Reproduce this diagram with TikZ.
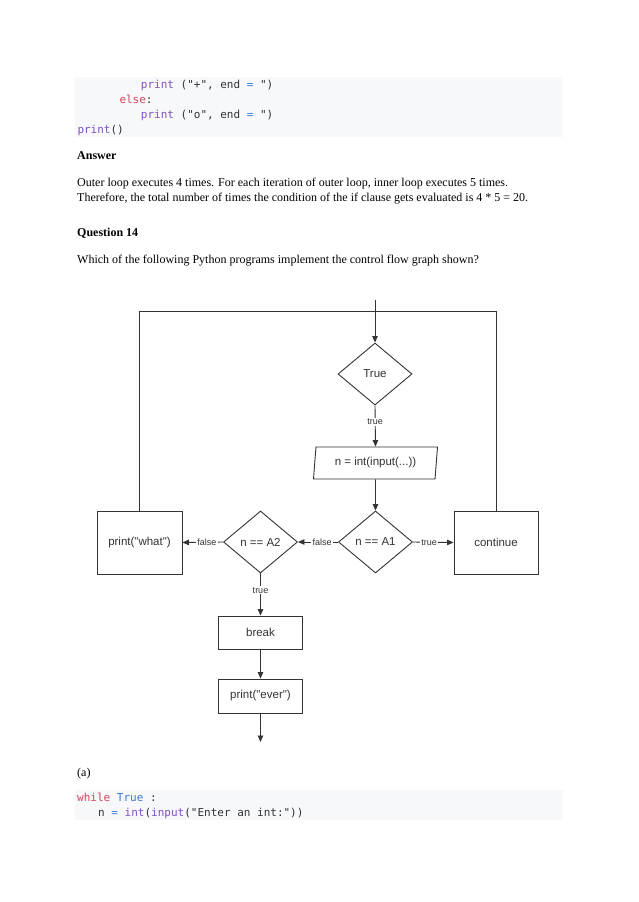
\documentclass[tikz,border=0pt]{standalone}
\usepackage{fontspec}
\setmainfont{Liberation Serif}
\newfontfamily\flow{Liberation Sans}
\newfontfamily\code[Ligatures=TeXOff]{DejaVu Sans Mono}
\usetikzlibrary{shapes.geometric,arrows.meta}
\definecolor{codebg}{HTML}{F6F8FA}
\definecolor{kwpurple}{HTML}{8250C4}
\definecolor{kwred}{HTML}{D6455D}
\definecolor{kwblue}{HTML}{3A7BD5}
\definecolor{ln}{HTML}{333333}
\begin{document}
\begin{tikzpicture}[x=1pt,y=-1pt,
  txt/.style={anchor=base west, inner sep=0, font=\fontsize{12}{14}\selectfont},
  btxt/.style={anchor=base west, inner sep=0, font=\fontsize{12}{14}\selectfont\bfseries},
  codeln/.style={anchor=base west, inner sep=0, font=\code\fontsize{11}{13}\selectfont, text=ln},
  fbox/.style={draw=ln, line width=0.9pt, rectangle, inner sep=0, font=\flow\fontsize{11.5}{13}\selectfont, text=ln},
  dia/.style={fbox, diamond, minimum width=74pt, minimum height=62pt},
  para/.style={fbox, trapezium, trapezium left angle=81, trapezium right angle=99, trapezium stretches=true, minimum width=125pt, minimum height=32pt},
  line/.style={draw=ln, line width=0.9pt},
  conn/.style={line, -{Triangle[length=6.5pt,width=5.5pt]}},
  lab/.style={fill=white, inner sep=1.2pt, font=\flow\fontsize{9}{10}\selectfont, text=ln, pos=0.4}
]
\useasboundingbox (0,0) rectangle (638,902);
\fill[white] (0,0) rectangle (638,902);

% code block 1
\fill[codebg] (75,77) rectangle (563,137);
\node[codeln] (c1) at (140.7,88.3) {\textcolor{kwpurple}{print} ("+", end \textcolor{kwblue}{=} ")};
\node[codeln] (c2) at (119.3,103.3) {\textcolor{kwred}{else}:};
\node[codeln] (c3) at (140.7,118.3) {\textcolor{kwpurple}{print} ("o", end \textcolor{kwblue}{=} ")};
\node[codeln] (c4) at (77.3,133.3) {\textcolor{kwpurple}{print}()};

% text
\node[btxt] (ans) at (77,159.3) {Answer};
\node[txt] (o1) at (77,186.7) {Outer loop executes 4 times. For each iteration of outer loop, inner loop executes 5 times.};
\node[txt] (o2) at (77,201.7) {Therefore, the total number of times the condition of the if clause gets evaluated is 4 * 5 = 20.};
\node[btxt] (q) at (77,236.7) {Question 14};
\node[txt] (w) at (77,263) {Which of the following Python programs implement the control flow graph shown?};

% flowchart
\node[dia] (T) at (375,374) {True};
\node[para] (inp) at (375.5,463) {n = int(input(...))};
\node[dia] (A1) at (375.5,542) {n == A1};
\node[dia] (A2) at (260.5,542) {n == A2};
\node[fbox, minimum width=85pt, minimum height=63pt] (pw) at (139.5,542.5) {print("what")};
\node[fbox, minimum width=84pt, minimum height=63pt] (cont) at (496,542.5) {continue};
\node[fbox, minimum width=84pt, minimum height=33pt] (brk) at (260.5,632.5) {break};
\node[fbox, minimum width=84pt, minimum height=34pt] (pe) at (260.5,696) {print("ever")};
\coordinate (st) at (375,300);
\coordinate (jn) at (375,311);
\coordinate (out) at (260.5,742);

\draw[conn] (st) -- (T.north);
\draw[line] (pw.north) |- (jn);
\draw[line] (cont.north) |- (jn);
\draw[conn] (T.south) -- node[lab]{true} (inp.north);
\draw[conn] (inp.south) -- (A1.north);
\draw[conn] (A1.west) -- node[lab]{false} (A2.east);
\draw[conn] (A1.east) -- node[lab]{true} (cont.west);
\draw[conn] (A2.west) -- node[lab]{false} (pw.east);
\draw[conn] (A2.south) -- node[lab]{true} (brk.north);
\draw[conn] (brk.south) -- (pe.north);
\draw[conn] (pe.south) -- (out);

% text (a)
\node[txt] (a) at (77,776) {(a)};

% code block 2
\fill[codebg] (75,790) rectangle (563,820);
\node[codeln] (d1) at (77,801.7) {\textcolor{kwred}{while} \textcolor{kwblue}{True} :};
\node[codeln] (d2) at (98,816.7) {n \textcolor{kwblue}{=} \textcolor{kwpurple}{int}(\textcolor{kwpurple}{input}("Enter an int:"))};
\end{tikzpicture}
\end{document}
